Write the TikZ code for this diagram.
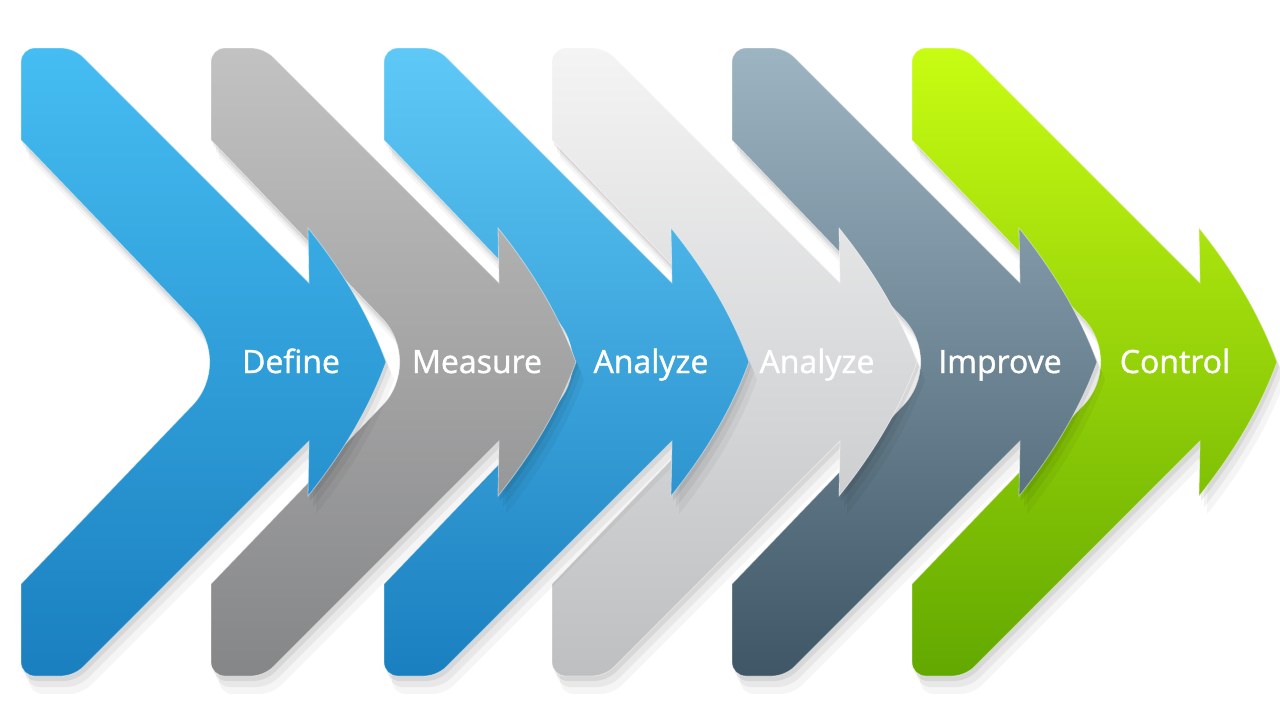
\documentclass[tikz,border=0pt]{standalone}
\usepackage{fontspec}
\setmainfont{Open Sans}[FakeBold=1.2]
\usetikzlibrary{calc}
\definecolor{blueT}{HTML}{45BDF2}\definecolor{blueM}{HTML}{2A9FDD}\definecolor{blueB}{HTML}{1A7FBF}
\definecolor{blueTT}{HTML}{5EC9F7}
\definecolor{grayT}{HTML}{C2C2C2}\definecolor{grayM}{HTML}{A6A6A6}\definecolor{grayB}{HTML}{858687}
\definecolor{lgT}{HTML}{F4F4F4}\definecolor{lgM}{HTML}{DCDDDE}\definecolor{lgB}{HTML}{BDBFC1}
\definecolor{slT}{HTML}{9DB4C3}\definecolor{slM}{HTML}{647D8D}\definecolor{slB}{HTML}{3E5665}
\definecolor{grT}{HTML}{C8FC12}\definecolor{grM}{HTML}{92D413}\definecolor{grB}{HTML}{62A800}
\newcommand\chevpath{(0,140) -- (0,62) .. controls (0,54) and (6,48) .. (14,48) -- (40,48) .. controls (48,48) and (57,52) .. (62,57) -- (288,283) -- (287,228) .. controls (320,269) and (347,313) .. (365,362) .. controls (347,411) and (320,455) .. (287,496) -- (288,441) -- (62,667) .. controls (57,672) and (48,676) .. (40,676) -- (14,676) .. controls (6,676) and (0,670) .. (0,662) -- (0,584) -- (171.5,405.3) .. controls (194.4,381.4) and (194.4,342.6) .. (171.5,318.7) -- cycle}
\newcommand\chevron[4]{%
  \begin{scope}[shift={(#1,0)}]
    \fill[black,opacity=0.04,shift={(8,18)}] \chevpath;
    \fill[black,opacity=0.05,shift={(5,11)}] \chevpath;
    \fill[black,opacity=0.07,shift={(2,5)}] \chevpath;
    \path[top color=#2,middle color=#3,bottom color=#4,draw=white,draw opacity=0.45,line width=0.8pt] \chevpath;
  \end{scope}}
\tikzset{lbl/.style={text=white,anchor=base,inner sep=0pt,font=\fontsize{32}{36}\selectfont}}
\begin{document}
\begin{tikzpicture}[x=1pt,y=-1pt]
  \useasboundingbox (0,0) rectangle (1280,720);
  \fill[white] (0,0) rectangle (1280,720);
  \chevron{912}{grT}{grM}{grB}
  \chevron{732}{slT}{slM}{slB}
  \chevron{552}{lgT}{lgM}{lgB}
  \chevron{384}{blueTT}{blueM}{blueB}
  \chevron{211}{grayT}{grayM}{grayB}
  \chevron{21}{blueT}{blueM}{blueB}
  \node[lbl] (define)   at (291,373)  {Define};
  \node[lbl] (measure)  at (477,373)  {Measure};
  \node[lbl] (analyze)  at (651,373)  {Analyze};
  \node[lbl] (analyzeb) at (817,373)  {Analyze};
  \node[lbl] (improve)  at (1000,373) {Improve};
  \node[lbl] (control)  at (1175,373) {Control};
\end{tikzpicture}
\end{document}
